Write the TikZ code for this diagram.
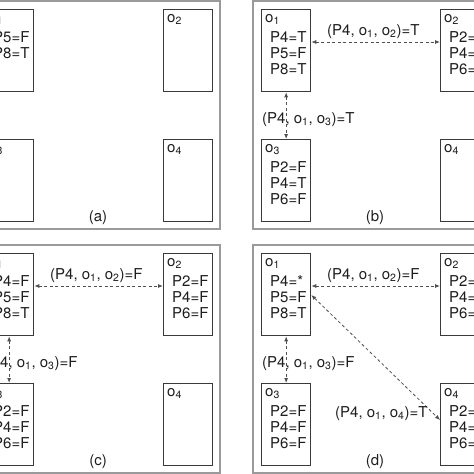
\documentclass[tikz,border=0pt]{standalone}
\usepackage{fontspec}
\setmainfont{TeX Gyre Heros}
\usetikzlibrary{arrows.meta}
\definecolor{framec}{HTML}{9A9A9A}
\definecolor{boxc}{HTML}{3A3A3A}
\definecolor{txtc}{HTML}{1E1E1E}
\definecolor{arrc}{HTML}{505050}
\tikzset{
  panel/.style={draw=framec, line width=1.6pt},
  obox/.style={draw=boxc, line width=1.3pt, minimum width=49pt, minimum height=82pt, anchor=north west, inner sep=0pt},
  otxt/.style={anchor=base west, inner sep=0pt, text=txtc, font=\fontsize{15}{18}\selectfont},
  darr/.style={draw=arrc, line width=0.8pt, dash pattern=on 3pt off 2.5pt, {Latex[length=5pt,width=4pt]}-{Latex[length=5pt,width=4pt]}},
}
\newcommand{\sub}[1]{\textsubscript{#1}}
\begin{document}
\begin{tikzpicture}[x=1pt,y=-1pt]
\useasboundingbox (0,0) rectangle (474,474);
\clip (0,0) rectangle (474,474);
\fill[white] (0,0) rectangle (474,474);
% ---------------- panel (a)
\begin{scope}[shift={(-24,1)}]
  \draw[panel] (0,0) rectangle (244,228);
  \node[obox] (a1) at (8,8) {};
  \node[obox] (a2) at (187,8) {};
  \node[obox] (a3) at (8,138) {};
  \node[obox] (a4) at (187,138) {};
  \node[otxt] (a1l) at (12,21) {o\sub{1}};
  \node[otxt] (a1p) at (17,41) {P5=F};
  \node[otxt] (a1q) at (17,57) {P8=T};
  \node[otxt] (a2l) at (191,21) {o\sub{2}};
  \node[otxt] (a3l) at (12,151) {o\sub{3}};
  \node[otxt] (a4l) at (191,151) {o\sub{4}};
  \node[otxt, anchor=center] (acap) at (122,217) {(a)};
\end{scope}
% ---------------- panel (b)
\begin{scope}[shift={(253,1)}]
  \draw[panel] (0,0) rectangle (244,228);
  \node[obox] (b1) at (8,8) {};
  \node[obox] (b2) at (187,8) {};
  \node[obox] (b3) at (8,138) {};
  \node[obox] (b4) at (187,138) {};
  \node[otxt] (b1l) at (12,21) {o\sub{1}};
  \node[otxt] (b1p) at (17,41) {P4=T};
  \node[otxt] (b1q) at (17,57) {P5=F};
  \node[otxt] (b1r) at (17,73) {P8=T};
  \node[otxt] (b2l) at (191,21) {o\sub{2}};
  \node[otxt] (b2p) at (196,41) {P2=F};
  \node[otxt] (b2q) at (196,57) {P4=T};
  \node[otxt] (b2r) at (196,73) {P6=F};
  \node[otxt] (b3l) at (12,151) {o\sub{3}};
  \node[otxt] (b3p) at (17,171) {P2=F};
  \node[otxt] (b3q) at (17,187) {P4=T};
  \node[otxt] (b3r) at (17,203) {P6=F};
  \node[otxt] (b4l) at (191,151) {o\sub{4}};
  \node[otxt, anchor=center] (bcap) at (122,217) {(b)};
  \draw[darr] ([yshift=-33pt]b1.north east) -- ([yshift=-33pt]b2.north west);
  \draw[darr] (b1.south) -- (b3.north);
  \node[otxt] (bl12) at (74,34) {(P4, o\sub{1}, o\sub{2})=T};
  \node[otxt] (bl13) at (9,122) {(P4, o\sub{1}, o\sub{3})=T};
\end{scope}
% ---------------- panel (c)
\begin{scope}[shift={(-24,245)}]
  \draw[panel] (0,0) rectangle (244,228);
  \node[obox] (c1) at (8,8) {};
  \node[obox] (c2) at (187,8) {};
  \node[obox] (c3) at (8,138) {};
  \node[obox] (c4) at (187,138) {};
  \node[otxt] (c1l) at (12,21) {o\sub{1}};
  \node[otxt] (c1p) at (17,41) {P4=F};
  \node[otxt] (c1q) at (17,57) {P5=F};
  \node[otxt] (c1r) at (17,73) {P8=T};
  \node[otxt] (c2l) at (191,21) {o\sub{2}};
  \node[otxt] (c2p) at (196,41) {P2=F};
  \node[otxt] (c2q) at (196,57) {P4=F};
  \node[otxt] (c2r) at (196,73) {P6=F};
  \node[otxt] (c3l) at (12,151) {o\sub{3}};
  \node[otxt] (c3p) at (17,171) {P2=F};
  \node[otxt] (c3q) at (17,187) {P4=F};
  \node[otxt] (c3r) at (17,203) {P6=F};
  \node[otxt] (c4l) at (191,151) {o\sub{4}};
  \node[otxt, anchor=center] (ccap) at (122,217) {(c)};
  \draw[darr] ([yshift=-33pt]c1.north east) -- ([yshift=-33pt]c2.north west);
  \draw[darr] (c1.south) -- (c3.north);
  \node[otxt] (cl12) at (74,34) {(P4, o\sub{1}, o\sub{2})=F};
  \node[otxt] (cl13) at (9,122) {(P4, o\sub{1}, o\sub{3})=F};
\end{scope}
% ---------------- panel (d)
\begin{scope}[shift={(253,245)}]
  \draw[panel] (0,0) rectangle (244,228);
  \node[obox] (d1) at (8,8) {};
  \node[obox] (d2) at (187,8) {};
  \node[obox] (d3) at (8,138) {};
  \node[obox] (d4) at (187,138) {};
  \node[otxt] (d1l) at (12,21) {o\sub{1}};
  \node[otxt] (d1p) at (17,41) {P4=*};
  \node[otxt] (d1q) at (17,57) {P5=F};
  \node[otxt] (d1r) at (17,73) {P8=T};
  \node[otxt] (d2l) at (191,21) {o\sub{2}};
  \node[otxt] (d2p) at (196,41) {P2=F};
  \node[otxt] (d2q) at (196,57) {P4=F};
  \node[otxt] (d2r) at (196,73) {P6=F};
  \node[otxt] (d3l) at (12,151) {o\sub{3}};
  \node[otxt] (d3p) at (17,171) {P2=F};
  \node[otxt] (d3q) at (17,187) {P4=F};
  \node[otxt] (d3r) at (17,203) {P6=F};
  \node[otxt] (d4l) at (191,151) {o\sub{4}};
  \node[otxt] (d4p) at (196,171) {P2=F};
  \node[otxt] (d4q) at (196,187) {P4=T};
  \node[otxt] (d4r) at (196,203) {P6=F};
  \node[otxt, anchor=center] (dcap) at (122,217) {(d)};
  \draw[darr] ([yshift=-33pt]d1.north east) -- ([yshift=-33pt]d2.north west);
  \draw[darr] (d1.south) -- (d3.north);
  \draw[darr] ([yshift=-42pt]d1.north east) -- ([yshift=-37pt]d4.north west);
  \node[otxt] (dl12) at (74,34) {(P4, o\sub{1}, o\sub{2})=F};
  \node[otxt] (dl13) at (9,122) {(P4, o\sub{1}, o\sub{3})=F};
  \node[otxt] (dl14) at (82,172) {(P4, o\sub{1}, o\sub{4})=T};
\end{scope}
\end{tikzpicture}
\end{document}
